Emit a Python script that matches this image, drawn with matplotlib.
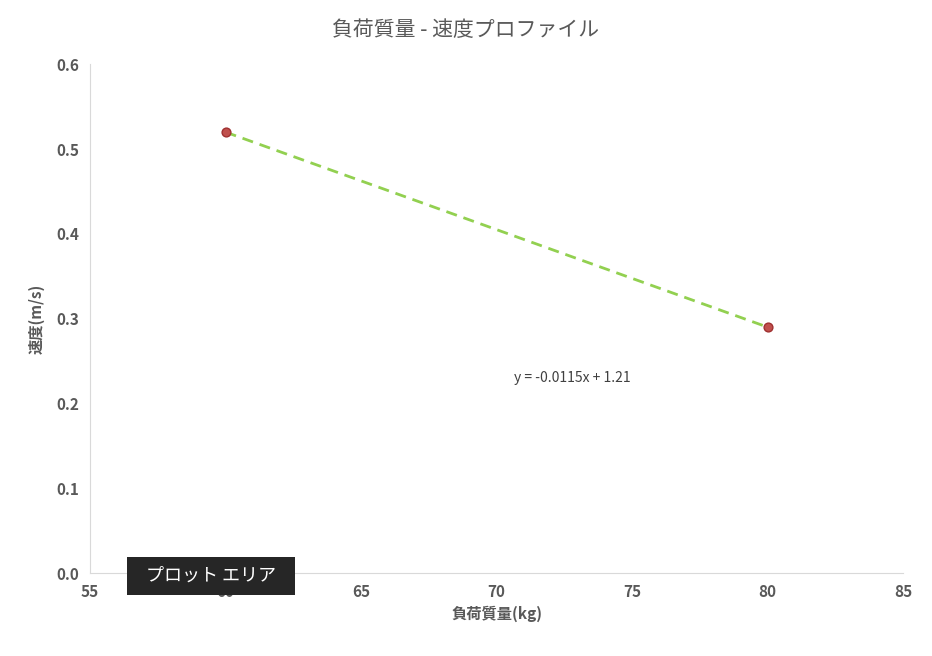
import matplotlib
matplotlib.use("Agg")
import matplotlib.pyplot as plt
from matplotlib.patches import FancyBboxPatch
import numpy as np

plt.rcParams['font.family'] = ['Noto Sans CJK JP', 'DejaVu Sans']

load_kg = [60, 80]
speed = [0.52, 0.29]
slope, intercept = -0.0115, 1.21
xticks = [55, 60, 65, 70, 75, 80, 85]
yticks = [0.0, 0.1, 0.2, 0.3, 0.4, 0.5, 0.6]

fig = plt.figure(figsize=(9.32, 6.56), dpi=100)
ax = fig.add_axes([0.0966, 0.1265, 0.8724, 0.7755])
tx = np.array(load_kg, dtype=float)
ax.plot(tx, slope * tx + intercept, linestyle=(0, (4, 2.5)), color='#92d050', lw=2, zorder=2)
ax.scatter(load_kg, speed, s=40, color='#c0504d', edgecolor='#a03030', zorder=3)
ax.set_xlim(55, 85)
ax.set_ylim(0, 0.6)
ax.set_xticks(xticks)
ax.set_yticks(yticks)
ax.set_xticklabels([str(v) for v in xticks])
ax.set_yticklabels([f"{v:.1f}" for v in yticks])
for s in ['top', 'right']:
    ax.spines[s].set_visible(False)
for s in ['left', 'bottom']:
    ax.spines[s].set_color('#d9d9d9')
ax.tick_params(length=0, labelsize=11, labelcolor='#595959', pad=8)
for lbl in ax.get_xticklabels() + ax.get_yticklabels():
    lbl.set_fontweight('bold')
ax.set_xlabel('負荷質量(kg)', fontsize=11, fontweight='bold', color='#595959', labelpad=4)
ax.set_ylabel('速度(m/s)', fontsize=11, fontweight='bold', color='#595959', labelpad=8)
fig.text(0.5, 0.955, '負荷質量 - 速度プロファイル', ha='center', va='center', fontsize=15, color='#595959')
ax.text(72.8, 0.23, 'y = -0.0115x + 1.21', fontsize=10, color='#404040', ha='center', va='center')

box = FancyBboxPatch((127/932, 1-595/656), 168/932, 38/656, boxstyle='square,pad=0',
                     transform=fig.transFigure, facecolor='#262626', edgecolor='none', zorder=10)
fig.patches.append(box)
fig.text(211/932, 1-576/656, 'プロット エリア', ha='center', va='center', fontsize=13, color='white', zorder=11)

fig.savefig('out.png', dpi=100)
